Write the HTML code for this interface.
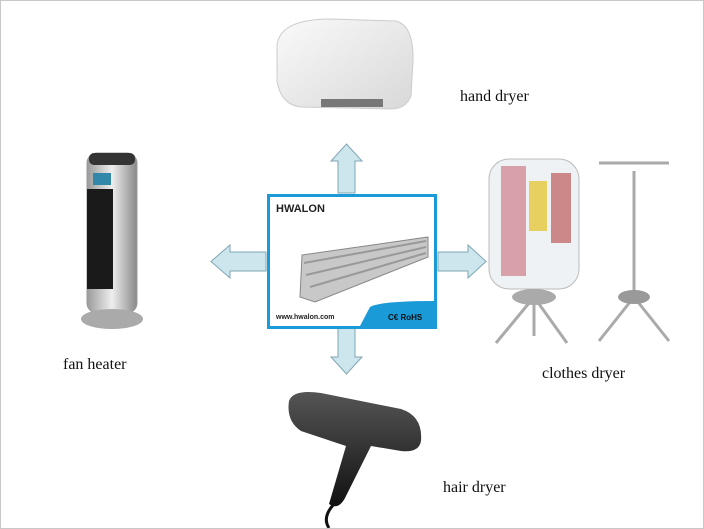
<!DOCTYPE html>
<html><head><meta charset="utf-8"><style>
html,body{margin:0;padding:0;background:#fff}
#c{position:relative;width:702px;height:527px;border:1px solid #c8c8c8;overflow:hidden;font-family:"Liberation Serif",serif}
.l{position:absolute;font-size:16px;color:#111;white-space:nowrap}
</style></head><body><div id="c">
<svg width="702" height="527" style="position:absolute;left:0;top:0">
<defs>
<linearGradient id="w" x1="0" y1="0" x2="1" y2="1"><stop offset="0" stop-color="#fafafa"/><stop offset="1" stop-color="#d8d8d8"/></linearGradient>
<linearGradient id="s" x1="0" x2="1"><stop offset="0" stop-color="#9a9a9a"/><stop offset=".5" stop-color="#eee"/><stop offset="1" stop-color="#888"/></linearGradient>
<linearGradient id="h" x1="0" y1="0" x2="0" y2="1"><stop offset="0" stop-color="#555"/><stop offset="1" stop-color="#111"/></linearGradient>
</defs>
<!-- hand dryer -->
<path d="M276 45 Q278 18 330 18 L395 20 Q413 25 412 60 L410 95 Q405 108 390 108 L300 106 Q280 104 276 80 Z" fill="url(#w)" stroke="#ccc"/>
<rect x="320" y="98" width="62" height="8" fill="#777"/>
<!-- arrows -->
<g fill="#cde6ee" stroke="#7fa6b3" stroke-width="1">
<path d="M337 192 V160 H330 L345.5 143 L361 160 H354 V192 Z"/>
<path d="M337 327 V356 H330 L345.5 373 L361 356 H354 V327 Z"/>
<path d="M265 251 H229 V244 L210 260.5 L229 277 V270 H265 Z"/>
<path d="M437 251 H467 V244 L485 260.5 L467 277 V270 H437 Z"/>
</g>
<!-- fan heater -->
<rect x="86" y="152" width="50" height="160" rx="10" fill="url(#s)" stroke="#999"/>
<rect x="88" y="152" width="46" height="12" rx="5" fill="#333"/>
<rect x="92" y="172" width="18" height="12" fill="#38a"/>
<rect x="86" y="188" width="26" height="100" fill="#1a1a1a"/>
<ellipse cx="111" cy="318" rx="31" ry="10" fill="#aaa"/>
<!-- clothes dryer -->
<rect x="488" y="158" width="90" height="130" rx="20" fill="#eef2f4" stroke="#bbb"/>
<rect x="500" y="165" width="25" height="110" fill="#d8a0a8"/>
<rect x="528" y="180" width="18" height="50" fill="#e8d060"/>
<rect x="550" y="172" width="20" height="70" fill="#c88"/>
<ellipse cx="533" cy="296" rx="22" ry="8" fill="#aaa"/>
<g stroke="#aaa" stroke-width="3"><line x1="533" y1="296" x2="495" y2="342"/><line x1="533" y1="296" x2="566" y2="342"/><line x1="533" y1="296" x2="533" y2="335"/>
<line x1="633" y1="170" x2="633" y2="290"/><line x1="633" y1="296" x2="598" y2="340"/><line x1="633" y1="296" x2="668" y2="340"/><line x1="598" y1="162" x2="668" y2="162"/></g>
<ellipse cx="633" cy="296" rx="16" ry="7" fill="#999"/>
<!-- hair dryer -->
<path d="M288 400 Q292 388 320 392 L400 408 Q422 415 420 440 Q418 452 400 450 L370 445 L345 495 Q338 510 328 503 L345 445 L300 430 Q285 420 288 400 Z" fill="url(#h)"/>
<path d="M336 500 Q320 515 328 527" stroke="#111" stroke-width="3" fill="none"/>
</svg>
<!-- center box -->
<div style="position:absolute;left:266px;top:193px;width:164px;height:129px;border:3px solid #1a9ad6;background:#fff">
<div style="position:absolute;left:6px;top:6px;font:bold 11px 'Liberation Sans',sans-serif;color:#222">HWALON</div>
<svg width="164" height="129" style="position:absolute;left:0;top:0">
<path d="M32 58 L158 40 L158 60 L45 105 L30 100 Z" fill="#c8c8c8" stroke="#888"/>
<g stroke="#999" stroke-width="2"><line x1="34" y1="66" x2="156" y2="44"/><line x1="36" y1="78" x2="156" y2="50"/><line x1="40" y1="90" x2="156" y2="56"/></g>
<path d="M90 129 L100 110 Q110 104 164 104 V129 Z" fill="#1a9ad6"/>
</svg>
<div style="position:absolute;left:6px;top:117px;font:bold 7px 'Liberation Sans',sans-serif;color:#222">www.hwalon.com</div>
<div style="position:absolute;left:118px;top:116px;font:bold 8px 'Liberation Sans',sans-serif;color:#111">C€ RoHS</div>
</div>
<div class="l" style="left:459px;top:87px">hand dryer</div>
<div class="l" style="left:62px;top:355px">fan heater</div>
<div class="l" style="left:541px;top:364px">clothes dryer</div>
<div class="l" style="left:442px;top:478px">hair dryer</div>
</div></body></html>
